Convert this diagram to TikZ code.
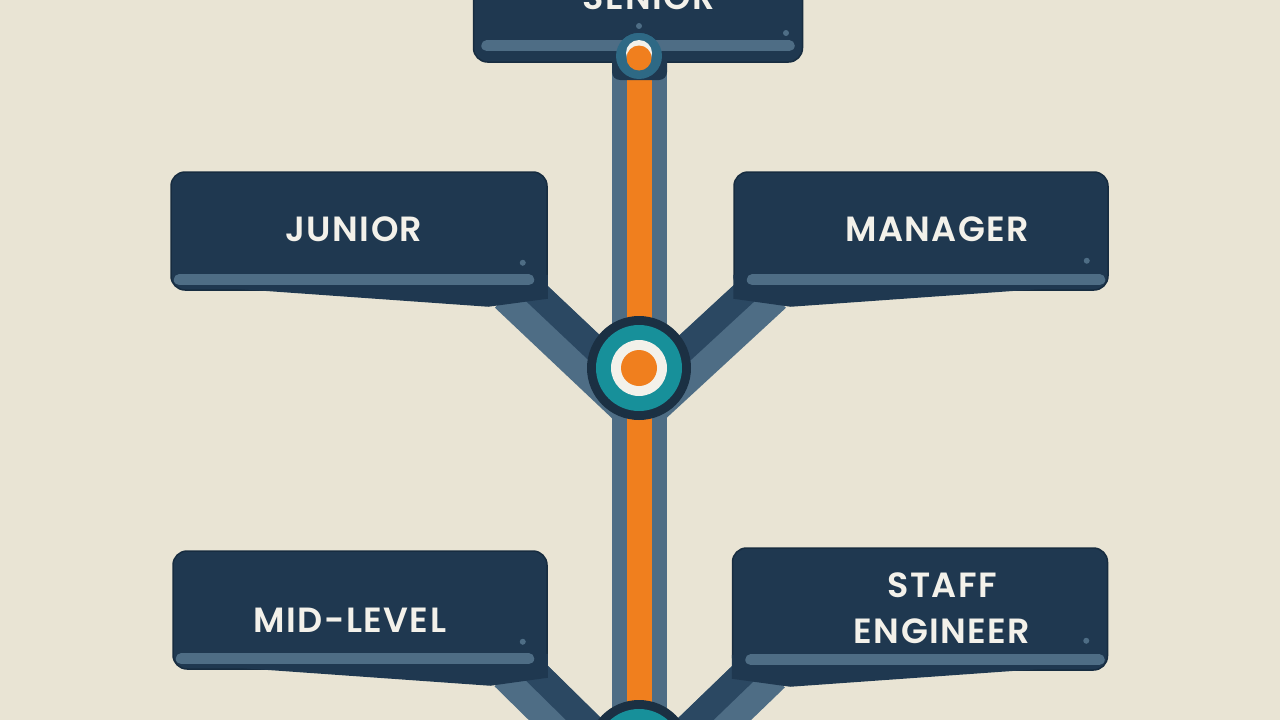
\documentclass[tikz,border=0pt]{standalone}
\usepackage{fontspec}
\setsansfont{Poppins}[BoldFont={Poppins SemiBold}, LetterSpace=4]
\usepackage{tikz}
\usetikzlibrary{calc}
\definecolor{paper}{HTML}{E9E4D4}
\definecolor{navy}{HTML}{1F3850}
\definecolor{navyedge}{HTML}{172C40}
\definecolor{slate}{HTML}{4E6D85}
\definecolor{slatedark}{HTML}{2B4862}
\definecolor{ringdark}{HTML}{1B3043}
\definecolor{hubteal}{HTML}{17909A}
\definecolor{cream}{HTML}{F3F1EA}
\definecolor{tangerine}{HTML}{F07F1E}
\definecolor{dotteal}{HTML}{2E6985}
\pgfdeclarelayer{bg}
\pgfdeclarelayer{rails}
\pgfsetlayers{bg,rails,main}
\tikzset{
  card/.style={fill=navy, draw=navyedge, line width=1.5pt, rounded corners=14pt,
    inner sep=0pt},
  title/.style={text=cream, font=\sffamily\bfseries\fontsize{35}{42}\selectfont,
    align=center, inner sep=0pt},
  hub/.style={circle, fill=ringdark, minimum size=104pt, inner sep=0pt},
  tip/.style={circle, fill=dotteal, minimum size=46pt, inner sep=0pt},
  rail/.style={draw=slate, line width=55pt},
  railcore/.style={draw=tangerine, line width=25pt},
  arm/.style={draw=slate, line width=52pt},
  armshade/.style={draw=slatedark, line width=26pt},
  stripe/.style={draw=slate, line width=11pt, line cap=round},
  rivet/.style={fill=slate}
}

\begin{document}
\begin{tikzpicture}[x=1pt, y=-1pt]
  \begin{pgfonlayer}{bg}
    \fill[paper] (0,0) rectangle (1280,720);
  \end{pgfonlayer}
  \useasboundingbox (0,0) rectangle (1280,720);
  \clip (0,0) rectangle (1280,720);

  % cards
  \node[card, minimum width=329pt, minimum height=124pt] (senior) at (638,0) {};
  \node[card, minimum width=376pt, minimum height=118pt] (junior) at (359,231) {};
  \node[card, minimum width=374pt, minimum height=118pt] (manager) at (921,231) {};
  \node[card, minimum width=374pt, minimum height=118pt] (midlevel) at (360,610) {};
  \node[card, minimum width=375pt, minimum height=122pt] (staff) at (920,609) {};

  % stops on the line
  \node[hub] (hubA) at (639,368) {};
  \node[hub] (hubB) at (639,752) {};
  \node[tip] (topdot) at (639,56) {};

  \coordinate (jroot) at ($(junior.south east)+(-35,-2)$);
  \coordinate (mroot) at ($(manager.south west)+(35,-2)$);
  \coordinate (lroot) at ($(midlevel.south east)+(-35,-2)$);
  \coordinate (sroot) at ($(staff.south west)+(35,-2)$);
  \coordinate (hubAfoot) at ($(hubA)+(0,40)$);
  \coordinate (hubBfoot) at ($(hubB)+(0,40)$);

  \begin{pgfonlayer}{rails}
    \foreach \from/\to/\dx in {jroot/hubAfoot/1, mroot/hubAfoot/-1,
                               lroot/hubBfoot/1, sroot/hubBfoot/-1}{
      \draw[arm] (\from) -- (\to);
      \draw[armshade, transform canvas={shift={({\dx*9.5pt},9pt)}}] (\from) -- (\to);
    }
    \draw[rail] (topdot.center) -- (hubB.center);
    \draw[railcore] (topdot.center) -- (hubB.center);
  \end{pgfonlayer}

  % slanted card bottoms
  \foreach \c in {junior, midlevel}{
    \fill[navy] ($(\c.south west)+(8,-6)$) -- ($(\c.south west)+(318,16)$)
      -- ($(\c.south east)+(0,8)$) -- ($(\c.south east)+(0,-16)$) -- cycle;
    \draw[stripe] ($(\c.south west)+(9,-11)$) -- ($(\c.south east)+(-19,-11)$);
    \fill[rivet] ($(\c.south east)+(-25,-28)$) circle (3pt);
  }
  \foreach \c in {manager, staff}{
    \fill[navy] ($(\c.south east)+(-8,-6)$) -- ($(\c.south east)+(-318,16)$)
      -- ($(\c.south west)+(0,8)$) -- ($(\c.south west)+(0,-16)$) -- cycle;
    \draw[stripe] ($(\c.south west)+(19,-11)$) -- ($(\c.south east)+(-9,-11)$);
    \fill[rivet] ($(\c.south east)+(-22,-30)$) circle (3pt);
  }

  % titles
  \node[title] (seniortext) at (649,-3) {SENIOR};
  \node[title] (juniortext) at (354,229) {JUNIOR};
  \node[title] (managertext) at (937,229) {MANAGER};
  \node[title] (midleveltext) at (350,620) {MID-LEVEL};
  \node[title] (stafftext) at (942,608) {STAFF\\[4pt]ENGINEER};

  % senior neck and top dot
  \fill[navy, rounded corners=8pt] (612,50) rectangle (667,80);
  \draw[stripe] ($(senior.south west)+(14,-17)$) -- ($(senior.south east)+(-14,-17)$);
  \fill[rivet] (639,26) circle (3pt);
  \fill[rivet] (786,33) circle (3pt);
  \fill[dotteal] (topdot) circle (23pt);
  \fill[cream] ($(topdot)+(0,-3)$) circle (13pt);
  \fill[tangerine] ($(topdot)+(0,2)$) circle (12.5pt);

  \foreach \h in {hubA, hubB}{
    \fill[hubteal] (\h) circle (43pt);
    \fill[cream] (\h) circle (28pt);
    \fill[tangerine] (\h) circle (18pt);
  }
\end{tikzpicture}
\end{document}
